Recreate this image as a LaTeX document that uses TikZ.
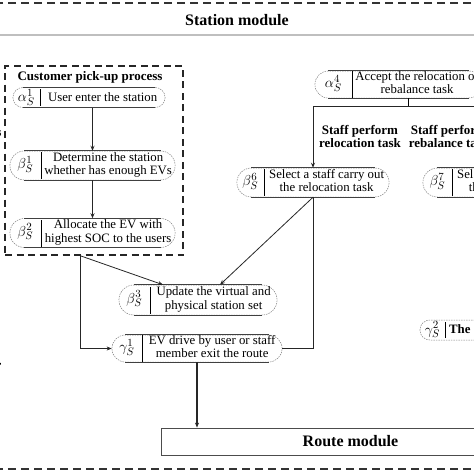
\documentclass[tikz,border=0pt]{standalone}
\usepackage{fontspec}
\setmainfont{Liberation Serif}
\usetikzlibrary{arrows.meta,calc,positioning}
\newcommand{\nodefont}{\fontsize{12.8pt}{13.5pt}\selectfont}
\newcommand{\headfont}{\fontsize{16pt}{18pt}\selectfont\bfseries}
\newcommand{\labfont}{\fontsize{13pt}{13.5pt}\selectfont\bfseries}
% symbol | text inside one stage
\newcommand{\stg}[4]{\begin{tabular}{@{}c@{}|@{}c@{}}\makebox[#1]{\fontsize{15pt}{15pt}\selectfont$#3$}&\parbox[c]{#2}{\centering\strut #4\strut}\end{tabular}}
\begin{document}
\begin{tikzpicture}[x=1pt,y=-1pt,
  stage/.style={rectangle,draw=black!50,dash pattern=on 1.5pt off 1pt,line width=0.5pt,rounded corners=#1,minimum height=2*#1,inner sep=0pt,font=\nodefont},
  rim/.style={draw=black!75,line width=0.6pt},
  link/.style={line width=0.8pt,black!85},
  flow/.style={link,-{Stealth[length=5pt,width=4pt]}},
  pickup/.style={draw=black!85,line width=1.3pt,dash pattern=on 7pt off 4.5pt},
  module/.style={draw=black!70,line width=0.8pt,font=\headfont},
  task label/.style={font=\labfont,align=center}]

\useasboundingbox (0,0) rectangle (474,474);
\clip (0,0) rectangle (474,474);

% module frames
\draw[black!80,line width=1.2pt,dash pattern=on 8pt off 5pt] (-20,3) rectangle (494,469);
\node[font=\headfont] (station) at (237,20) {Station module};
\draw[black!25,line width=1.2pt] (-20,35) -- (494,35);

% customer pick-up
\node[pickup,minimum width=178pt,minimum height=189pt] (pick) at (94,160.5) {};
\node[task label] (picktitle) at (90,77) {Customer pick-up process};
\node[stage=10pt] (a1) at (89,97.5) {\stg{27pt}{125pt}{\alpha_S^1}{User enter the station}};
\node[stage=14.5pt] (b1) at (92.5,165.5) {\stg{31pt}{134pt}{\beta_S^1}{Determine the station\\whether has enough EVs}};
\node[stage=14.5pt,below=38pt of b1] (b2) {\stg{31pt}{134pt}{\beta_S^2}{Allocate the EV with\\highest SOC to the users}};

% shared steps
\node[stage=15pt] (b3) at (198,300) {\stg{31pt}{127pt}{\beta_S^3}{Update the virtual and\\physical station set}};
\node[stage=13.5pt] (g1) at (197,348.5) {\stg{30pt}{140pt}{\gamma_S^1}{EV drive by user or staff\\member exit the route}};

% staff branch
\node[stage=13.5pt] (a4) at (398.5,84.5) {\stg{37pt}{130pt}{\alpha_S^4}{Accept the relocation or\\rebalance task}};
\node[task label] (reloc) at (360,136.5) {Staff perform\\relocation task};
\node[task label] (rebal) at (449,136.5) {Staff perform\\rebalance task};
\node[stage=14.5pt] (b6) at (313,182.5) {\stg{27pt}{125pt}{\beta_S^6}{Select a staff carry out\\the relocation task}};
\node[stage=14.5pt] (b7) at (500,182.5) {\stg{29pt}{125pt}{\beta_S^7}{Select a staff carry out\\the rebalance task}};
\node[stage=10pt] (g2) at (492.5,330) {\stg{25pt}{120pt}{\gamma_S^2}{\raggedright\hspace*{4pt}\textbf{The}}};

% route
\node[module,minimum width=379pt,minimum height=27pt] (route) at (350.5,441.5) {Route module};

% solid top and bottom of each stage
\foreach \n/\r in {a1/10,b1/14.5,b2/14.5,b3/15,g1/13.5,a4/13.5,b6/14.5,b7/14.5} {
  \draw[rim] ($(\n.north west)+(\r,0)$) -- ($(\n.north east)+(-\r,0)$);
  \draw[rim] ($(\n.south west)+(\r,0)$) -- ($(\n.south east)+(-\r,0)$);
}

% connectors
\coordinate (exit) at ($(pick.south)+(-14,0)$);
\coordinate (bar) at ($(a4.south)+(10,8)$);
\draw[flow] (a1.south -| b1.north) -- (b1.north);
\draw[flow] (b1) -- (b2);
\draw[flow] (exit) -- ($(b3.north)+(-35,0)$);
\draw[flow] (exit) |- (g1.west);
\draw[flow] (b6.south) -- ($(b3.north)+(22,0)$);
\draw[link,line width=1pt] (b6.south) |- (g1.east);
\draw (a4.south -| bar) -- (bar);
\draw[flow] (bar) -| (b6.north);
\draw[flow] (bar) -| (b7.north);
\draw[flow,line width=1.2pt] (g1.south) -- (g1.south |- route.north);

% cut-off labels on the left edge
\node[font=\labfont,anchor=east] (cutA) at (5,133) {s};
\node[font=\labfont,anchor=east] (cutB) at (5,366) {r};
\end{tikzpicture}
\end{document}
